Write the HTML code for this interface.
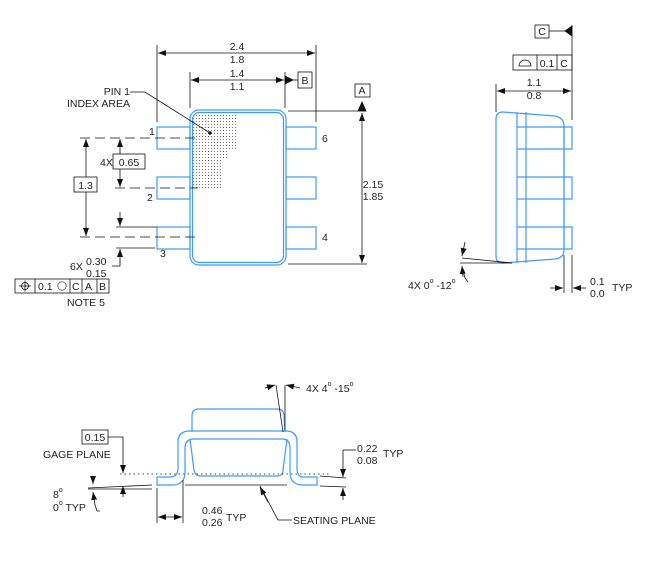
<!DOCTYPE html>
<html><head><style>
html,body{margin:0;padding:0;background:#fff;}
svg{display:block;font-family:"Liberation Sans",sans-serif;}
text{font-size:10.5px;fill:#222;}
.s{font-size:7px;}
</style></head><body>
<svg width="650" height="577" viewBox="0 0 650 577" xmlns="http://www.w3.org/2000/svg">
<defs>
<pattern id="dots" width="3" height="3" patternUnits="userSpaceOnUse"><rect x="1" y="1" width="1" height="1" fill="#777"/></pattern>
<marker id="ar" markerWidth="8" markerHeight="6" refX="8" refY="3" orient="auto-start-reverse" markerUnits="userSpaceOnUse"><path d="M0,0 L8,3 L0,6 Z" fill="#111"/></marker>
</defs>
<g stroke="#111" stroke-width="0.8" fill="none">
<!-- TOP VIEW -->
<path d="M193,113 H238 V188 H193 Z" fill="url(#dots)" stroke="none"/>
<rect x="222" y="158" width="16" height="30" fill="#fff" stroke="none"/>
<rect x="228" y="150" width="10" height="8" fill="#fff" stroke="none"/>
<g stroke="#3d9bff" stroke-width="1.2">
<rect x="190" y="110" width="96" height="155" rx="9"/>
<rect x="192.5" y="112.5" width="91" height="150" rx="7"/>
<rect x="157" y="127" width="33" height="22"/><rect x="157" y="177" width="33" height="22"/><rect x="157" y="227" width="33" height="22"/>
<rect x="286" y="127" width="30" height="22"/><rect x="286" y="177" width="30" height="22"/><rect x="286" y="227" width="30" height="22"/>
</g>
<line x1="157" y1="45" x2="157" y2="122"/><line x1="316" y1="45" x2="316" y2="122"/>
<line x1="158" y1="53" x2="315" y2="53" marker-start="url(#ar)" marker-end="url(#ar)"/>
<line x1="190" y1="72" x2="190" y2="108"/><line x1="285" y1="72" x2="285" y2="108"/>
<line x1="191" y1="80" x2="284" y2="80" marker-start="url(#ar)" marker-end="url(#ar)"/>
<path d="M285,76 L293,80 L285,84 Z" fill="#111"/><line x1="285" y1="80" x2="298" y2="80"/>
<rect x="298" y="72" width="14" height="16"/>
<rect x="355" y="84" width="15" height="13"/>
<path d="M358,111 L362,102 L366,111 Z" fill="#111"/><line x1="288" y1="111" x2="366" y2="111"/>
<line x1="362" y1="113" x2="362" y2="263" marker-start="url(#ar)" marker-end="url(#ar)"/>
<line x1="288" y1="264" x2="367" y2="264"/>
<line x1="80" y1="138" x2="198" y2="138" stroke-dasharray="10,5"/>
<line x1="115" y1="188" x2="198" y2="188" stroke-dasharray="10,5"/>
<line x1="80" y1="237" x2="200" y2="237" stroke-dasharray="10,5"/>
<line x1="86" y1="139" x2="86" y2="236" marker-start="url(#ar)" marker-end="url(#ar)"/>
<rect x="74" y="177" width="23" height="15" fill="#fff"/>
<line x1="120" y1="139" x2="120" y2="187" marker-start="url(#ar)" marker-end="url(#ar)"/>
<rect x="113" y="154" width="32" height="15" fill="#fff"/>
<line x1="120" y1="212" x2="120" y2="226" marker-end="url(#ar)"/>
<line x1="116" y1="227" x2="157" y2="227"/><line x1="116" y1="248" x2="155" y2="248"/>
<path d="M120,263 L120,249" marker-end="url(#ar)"/><path d="M120,262 V266 H112"/>
<path d="M130,92 H145 L210,133"/><circle cx="210" cy="133" r="1.3" fill="#111"/>
<rect x="15" y="279" width="94" height="14"/>
<line x1="35" y1="279" x2="35" y2="293"/><line x1="70" y1="279" x2="70" y2="293"/><line x1="82" y1="279" x2="82" y2="293"/><line x1="97" y1="279" x2="97" y2="293"/>
<circle cx="25" cy="286" r="3.5"/><line x1="19" y1="286" x2="31" y2="286"/><line x1="25" y1="280.5" x2="25" y2="291.5"/>
<circle cx="62" cy="286" r="4.2" stroke-width="0.6"/>
<!-- SIDE VIEW -->
<g stroke="#3d9bff" stroke-width="1.2">
<path d="M503,112 L555,116 Q564,118 564,126 V250 Q564,258 555,259 L503,263 Q496,263 496,256 V119 Q496,112 503,112 Z"/>
<line x1="517" y1="112" x2="517" y2="263"/><line x1="526" y1="112" x2="526" y2="263"/>
<path d="M526,127 H572 V149 H526 M526,177 H572 V199 H526 M526,227 H572 V249 H526"/>
<path d="M517,127 H526 M517,149 H526 M517,177 H526 M517,199 H526 M517,227 H526 M517,249 H526"/>
<line x1="564" y1="127" x2="564" y2="249"/>
</g>
<rect x="535" y="25" width="14" height="13"/>
<line x1="549" y1="31" x2="565" y2="31"/><path d="M565,31 L572,26 L572,36 Z" fill="#111"/>
<line x1="572" y1="25" x2="572" y2="120"/>
<rect x="513" y="55" width="59" height="15"/><line x1="537" y1="55" x2="537" y2="70"/><line x1="557" y1="55" x2="557" y2="70"/>
<path d="M519,66 A6,6 0 0 1 531,66 Z"/>
<line x1="496" y1="84" x2="496" y2="112"/>
<line x1="497" y1="91" x2="571" y2="91" marker-start="url(#ar)" marker-end="url(#ar)"/>
<line x1="462" y1="258" x2="512" y2="263"/><line x1="460" y1="263" x2="512" y2="263"/>
<path d="M465,242 L462,256" marker-end="url(#ar)"/><path d="M462,267 L465,278 L468,282" /><path d="M463,277 L462,266" marker-end="url(#ar)"/>
<line x1="564" y1="255" x2="564" y2="293"/><line x1="572" y1="255" x2="572" y2="293"/>
<line x1="550" y1="288" x2="563" y2="288" marker-end="url(#ar)"/><line x1="586" y1="288" x2="573" y2="288" marker-end="url(#ar)"/>
<!-- END VIEW -->
<g stroke="#3d9bff" stroke-width="1.2">
<path d="M192,432 V416 Q192,409 199,409 H277 Q284,409 284,416 L285,432"/>
<path d="M157,477 V485 H172 Q185,485 185,472 V448 Q185,439 194,439 H282 Q290,439 290,448 V472 Q290,485 303,485 H317 V477 H303 Q297,477 297,468 V442 Q297,431 286,431 H190 Q178,431 178,442 V468 Q178,477 170,477 Z"/>
<path d="M190,439 L194,470 Q195,476 201,476 H277 Q283,476 283,470 L287,439"/>
</g>
<line x1="120" y1="474" x2="330" y2="474" stroke-dasharray="1.5,3"/>
<line x1="185" y1="485" x2="287" y2="485"/>
<line x1="276" y1="385" x2="283" y2="432"/><line x1="285" y1="385" x2="285" y2="430"/>
<line x1="265" y1="388" x2="275" y2="385" marker-end="url(#ar)"/><line x1="300" y1="388" x2="286" y2="385" marker-end="url(#ar)"/>
<rect x="82" y="430" width="26" height="14"/>
<path d="M108,437 H123 V473" marker-end="url(#ar)"/>
<path d="M123,497 V486" marker-end="url(#ar)"/>
<line x1="88" y1="488" x2="152" y2="485"/><line x1="88" y1="489" x2="152" y2="489"/>
<path d="M93,476 L93,484" marker-end="url(#ar)"/><path d="M95,505 L93,492" marker-end="url(#ar)"/><path d="M95,505 L97,511 H100"/>
<line x1="157" y1="488" x2="157" y2="523"/><line x1="183" y1="480" x2="183" y2="523"/>
<line x1="158" y1="517" x2="182" y2="517" marker-start="url(#ar)" marker-end="url(#ar)"/>
<path d="M260,486 L278,520 H292"/><path d="M268,502 L260,487" marker-end="url(#ar)"/>
<line x1="320" y1="476" x2="346" y2="478"/><line x1="320" y1="486" x2="346" y2="487"/>
<path d="M343,450 V477" marker-end="url(#ar)"/><path d="M343,500 V488" marker-end="url(#ar)"/><path d="M343,450 H356"/>
</g>
<!-- texts -->
<g text-anchor="middle">
<text x="237" y="50">2.4</text><text x="237" y="63">1.8</text>
<text x="237" y="77">1.4</text><text x="237" y="90">1.1</text>
<text x="305" y="84">B</text><text x="362" y="94">A</text>
<text x="373" y="188">2.15</text><text x="373" y="200">1.85</text>
<text x="85.5" y="189">1.3</text><text x="129" y="166">0.65</text>
<text x="534" y="86">1.1</text><text x="534" y="99">0.8</text>
<text x="542" y="35">C</text><text x="564" y="67">C</text><text x="547" y="67">0.1</text>
<text x="95" y="441">0.15</text>
</g>
<text x="149" y="135">1</text><text x="147" y="201">2</text><text x="160" y="257">3</text>
<text x="322" y="142">6</text><text x="322" y="241">4</text>
<text x="130" y="95" text-anchor="end">PIN 1</text>
<text x="130" y="107" text-anchor="end">INDEX AREA</text>
<text x="100" y="166">4X</text>
<text x="70" y="270">6X</text><text x="86" y="265">0.30</text><text x="86" y="277">0.15</text>
<text x="38" y="290">0.1</text><text x="72" y="290">C</text><text x="85" y="290">A</text><text x="99" y="290">B</text>
<text x="67" y="306">NOTE 5</text>
<text x="408" y="289">4X 0<tspan class="s" dy="-6">o</tspan><tspan dy="6"> -12</tspan><tspan class="s" dy="-6">o</tspan></text>
<text x="590" y="285">0.1</text><text x="590" y="297">0.0</text><text x="612" y="291">TYP</text>
<text x="306" y="392">4X 4<tspan class="s" dy="-6">o</tspan><tspan dy="6"> -15</tspan><tspan class="s" dy="-6">o</tspan></text>
<text x="43" y="458">GAGE PLANE</text>
<text x="357" y="452">0.22</text><text x="357" y="464">0.08</text><text x="383" y="457">TYP</text>
<text x="53" y="498">8<tspan class="s" dy="-6">o</tspan></text>
<text x="53" y="511">0<tspan class="s" dy="-6">o</tspan><tspan dy="6">  TYP</tspan></text>
<text x="202" y="514">0.46</text><text x="202" y="526">0.26</text><text x="226" y="521">TYP</text>
<text x="293" y="524">SEATING PLANE</text>
</svg>
</body></html>
